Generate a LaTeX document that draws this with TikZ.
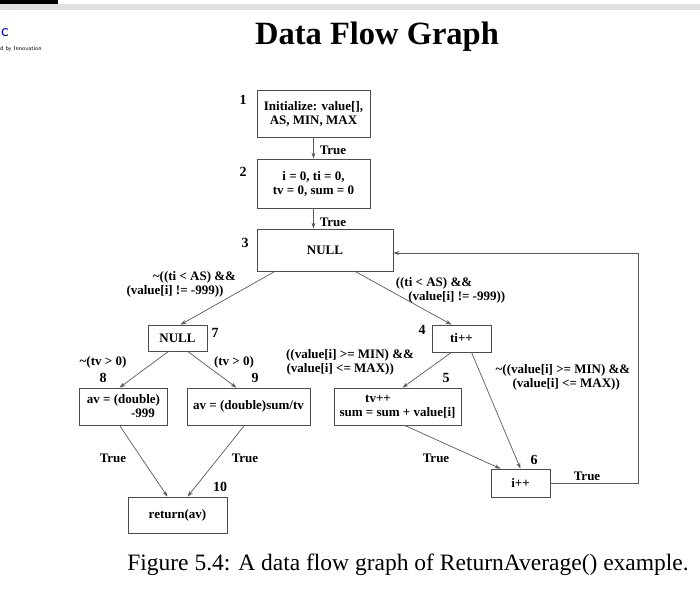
\documentclass[tikz,border=0pt]{standalone}
\usepackage{fontspec}
\setmainfont{Liberation Serif}
\usetikzlibrary{arrows.meta}
\begin{document}
\begin{tikzpicture}[x=1pt,y=-1pt,
  box/.style={draw=black!70,line width=0.7pt,inner sep=0pt,font=\fontsize{13}{14}\selectfont\bfseries,align=center},
  lbl/.style={font=\fontsize{13}{14}\selectfont\bfseries,align=center,inner sep=0pt},
  num/.style={font=\fontsize{14}{15}\selectfont\bfseries,inner sep=0pt},
  arr/.style={draw=black!65,line width=0.7pt,-{Stealth[length=6pt,width=4pt]}}]
\useasboundingbox (0,0) rectangle (700,588);
\fill[black!12] (0,4) rectangle (700,10);
\fill[black] (0,0) rectangle (58,4);
\node[font=\fontsize{18}{18}\selectfont\sffamily,text=blue!70!black,anchor=west,inner sep=0pt] (logo) at (1,33) {c};
\node[font=\fontsize{6}{6}\selectfont\sffamily,anchor=west,inner sep=0pt] (logot) at (0,49) {d by Innovation};
\node[font=\fontsize{32.5}{34}\selectfont\bfseries,inner sep=0pt] (title) at (377,37) {Data Flow Graph};

\node[box,minimum width=113pt,minimum height=47pt] (n1) at (313.5,113.5) {Initialize: value[],\\AS, MIN, MAX};
\node[box,minimum width=113pt,minimum height=49pt] (n2) at (313.5,183.5) {i = 0, ti = 0,\\tv = 0, sum = 0};
\node[box,minimum width=136pt,minimum height=42pt] (n3) at (325,250) {NULL};
\node[box,minimum width=59pt,minimum height=26pt] (n7) at (177.5,338) {NULL};
\node[box,minimum width=88pt,minimum height=37pt] (n8) at (123.5,406.5) {av = (double)\\\hspace*{3em}-999};
\node[box,minimum width=123pt,minimum height=37pt] (n9) at (248.5,406.5) {av = (double)sum/tv};
\node[box,minimum width=99pt,minimum height=36pt] (n10) at (177.5,515) {\raisebox{-6pt}{return(av)}};
\node[box,minimum width=59pt,minimum height=27pt] (n4) at (461.5,338.5) {ti++};
\node[box,minimum width=127pt,minimum height=37pt] (n5) at (397.5,406.5) {tv++\hspace*{3em}\\sum = sum + value[i]};
\node[box,minimum width=59pt,minimum height=28pt] (n6) at (520.5,483) {i++};

\node[num] (l1) at (243,100) {1};
\node[num] (l2) at (243,172) {2};
\node[num] (l3) at (245,243) {3};
\node[num] (l7) at (215,333) {7};
\node[num] (l8) at (103,378) {8};
\node[num] (l9) at (255,378) {9};
\node[num] (l10) at (220,487) {10};
\node[num] (l4) at (422,330) {4};
\node[num] (l5) at (446,378) {5};
\node[num] (l6) at (534,460) {6};

\draw[arr] (n1) -- (n2);
\draw[arr] (n2.south) -- (n2.south |- n3.north);
\draw[arr] ([xshift=-50pt]n3.south) -- ([xshift=3pt]n7.north);
\draw[arr] ([xshift=30pt]n3.south) -- ([xshift=-10pt]n4.north);
\draw[arr] ([xshift=-9pt]n7.south) -- ([xshift=-4pt]n8.north);
\draw[arr] ([xshift=10pt]n7.south) -- ([xshift=-12pt]n9.north);
\draw[arr] ([xshift=-4pt]n8.south) -- ([xshift=-10pt]n10.north);
\draw[arr] ([xshift=-4pt]n9.south) -- ([xshift=10pt]n10.north);
\draw[arr] ([xshift=-10pt]n4.south) -- ([xshift=5pt]n5.north);
\draw[arr] ([xshift=10pt]n4.south) -- ([xshift=0pt]n6.north);
\draw[arr] ([xshift=7pt]n5.south) -- ([xshift=-20pt]n6.north);
\coordinate (c1) at (638,483);
\coordinate (c2) at (638,253);
\draw[arr] (n6.east) -- (c1) -- (c2) -- (n3.east |- c2);

\node[lbl] (t12) at (333,150) {True};
\node[lbl] (t23) at (333,222) {True};
\node[lbl] (t37) at (175,284) {\hspace*{3em}\textasciitilde((ti < AS) \&\&\\(value[i] != -999))};
\node[lbl] (t34) at (447,290) {((ti < AS) \&\&\hspace*{2em}\\\hspace*{1.5em}(value[i] != -999))};
\node[lbl] (t78) at (103,362) {\textasciitilde(tv > 0)};
\node[lbl] (t79) at (234,362) {(tv > 0)};
\node[lbl] (t45) at (350,362) {((value[i] >= MIN) \&\&\\(value[i] <= MAX))\hspace*{1.5em}};
\node[lbl] (t46) at (563,377) {\textasciitilde((value[i] >= MIN) \&\&\\\hspace*{0.5em}(value[i] <= MAX))};
\node[lbl] (t810) at (113,458) {True};
\node[lbl] (t910) at (245,458) {True};
\node[lbl] (t56) at (436,458) {True};
\node[lbl] (t63) at (587,476) {True};
\node[font=\fontsize{23.5}{24}\selectfont,inner sep=0pt] (cap) at (408,565) {Figure 5.4: A data flow graph of ReturnAverage() example.};
\end{tikzpicture}
\end{document}
